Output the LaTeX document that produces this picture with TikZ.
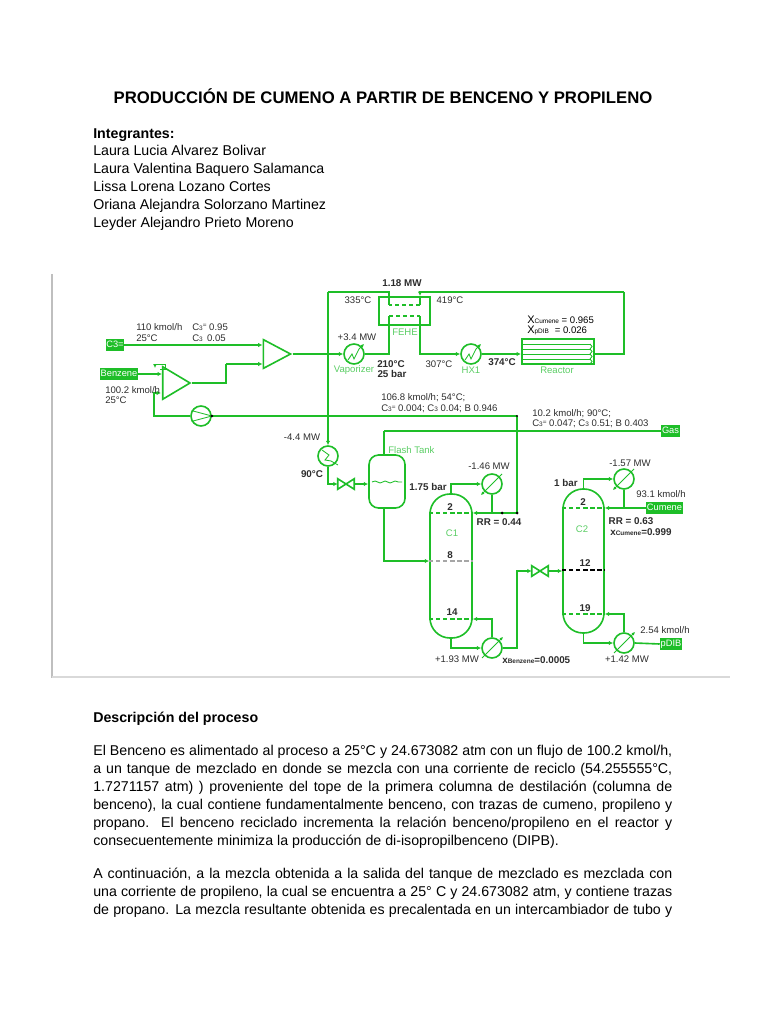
\documentclass[tikz,border=0pt]{standalone}
\usepackage{fontspec}
\setmainfont{Liberation Sans}
\usepackage{xcolor}
\usetikzlibrary{arrows.meta,calc,shapes.geometric,decorations.pathmorphing}
\definecolor{pfdgreen}{RGB}{30,190,40}
\definecolor{pfdlabel}{RGB}{90,205,100}
\definecolor{pfdtext}{RGB}{45,45,45}
\newcommand{\subsm}[1]{{\fontsize{4.6}{5}\selectfont #1}}
\newcommand{\Cpl}{C\subsm{3}\raisebox{0.5ex}{\subsm{=}}}
\newcommand{\Cpa}{C\subsm{3}}
\newcommand{\jline}[1]{\makebox[144.75mm][s]{#1}}
\tikzset{
  stream/.style={draw=pfdgreen,line width=1.15pt},
  feed/.style={stream,-{Latex[length=1.1mm,width=1.1mm]}},
  hxunit/.style={circle,draw=pfdgreen,line width=1.15pt,minimum size=5mm,inner sep=0pt,fill=white},
  valvenode/.style={minimum width=4mm,minimum height=2.5mm,inner sep=0pt},
  hxline/.style={draw=pfdgreen,line width=0.6pt},
  tag/.style={fill=pfdgreen,text=white,inner sep=0pt,font=\fontsize{6.6}{8}\selectfont},
  info/.style={text=pfdtext,inner sep=0pt,font=\fontsize{6.8}{8}\selectfont},
  infobold/.style={info,font=\fontsize{7}{8}\selectfont\bfseries},
  unitname/.style={text=pfdlabel,inner sep=0pt,font=\fontsize{6.8}{8}\selectfont},
  vessel/.style={draw=pfdgreen,line width=1.15pt,inner sep=0pt},
  mixer/.style={isosceles triangle,isosceles triangle stretches,draw=pfdgreen,line width=1.15pt,inner sep=0pt,fill=white},
  trayline/.style={draw=pfdgreen,line width=0.9pt,densely dashed},
  bodytext/.style={anchor=north west,inner sep=0pt,align=left,font=\fontsize{10.1}{12.76}\selectfont}
}
\begin{document}
\begin{tikzpicture}[x=0.25mm,y=-0.25mm]
  \useasboundingbox (0,0) rectangle (768,1024);
  % page text
  \node[inner sep=0pt,font=\fontsize{11.9}{13}\selectfont\bfseries] (title) at (383,96) {PRODUCCIÓN DE CUMENO A PARTIR DE BENCENO Y PROPILENO};
  \node[bodytext] (team) at (93,128) {\textbf{Integrantes:}\\Laura Lucia Alvarez Bolivar\\Laura Valentina Baquero Salamanca\\Lissa Lorena Lozano Cortes\\Oriana Alejandra Solorzano Martinez\\Leyder Alejandro Prieto Moreno};
  \node[bodytext] (deschead) at (93,712) {\textbf{Descripción del proceso}};
  \node[bodytext] (parone) at (93,745) {\jline{El Benceno es alimentado al proceso a 25°C y 24.673082 atm con un flujo de 100.2 kmol/h,}\\
    \jline{a un tanque de  mezclado en donde se mezcla con una corriente de reciclo (54.255555°C,}\\
    \jline{1.7271157 atm) ) proveniente del tope de la primera columna de destilación (columna de}\\
    \jline{benceno), la cual contiene fundamentalmente benceno, con trazas de cumeno, propileno y}\\
    \jline{propano. El benceno reciclado incrementa la relación benceno/propileno en el reactor y}\\
    consecuentemente minimiza la producción de di-isopropilbenceno (DIPB).};
  \node[bodytext] (partwo) at (93,868) {\jline{A continuación, a la mezcla obtenida a la salida del tanque de mezclado es mezclada con}\\
    \jline{una corriente de propileno, la cual se encuentra a 25° C y 24.673082 atm, y contiene trazas}\\
    \jline{de propano. La mezcla resultante obtenida es precalentada en un intercambiador de tubo y}};
  % frame of the pasted figure
  \draw[gray!50,line width=1.4pt] (52,274) -- (52,678);
  \draw[gray!30,line width=1pt] (52,677) -- (730,677);
  % feeds and mixers
  \node[tag] (cthree) at (115,345) {\makebox[4.5mm]{\strut C3=}};
  \node[tag] (benzene) at (119,374) {\makebox[9.4mm]{\strut Benzene}};
  \node[mixer,minimum width=8.1mm,minimum height=6.8mm] (mixone) at (172,383) {};
  \node[mixer,minimum width=7.2mm,minimum height=6.8mm] (mixtwo) at (272,354) {};
  \node[hxunit] (pump) at (201,416) {};
  \draw[hxline] (pump.150) -- (pump.east) -- (pump.210);
  \coordinate (rcyc) at (517,416);
  \coordinate (mixin) at (226,364);
  \draw[feed] (cthree.east) -- (cthree.east -| mixtwo.west);
  \draw[feed] (benzene.east) -- (benzene.east -| mixone.west);
  \draw[stream] (mixone.apex) -| (mixin);
  \draw[feed] (mixin) -- (mixin -| mixtwo.west);
  \draw[stream] (rcyc) -- (pump.east);
  \draw[feed] (pump.west) -| (154,393) -- (161,393);
  \draw[hxline,-{Latex[length=1mm,width=1mm]}] (160,369) -- (165,369) -- (165,364) -- (155,364) -- (155,368);
  \fill (pump.east) circle (1.5);
  % FEHE, heaters and reactor
  \node[hxunit] (vap) at (354,354) {};
  \node[hxunit] (hxone) at (471,354) {};
  \node[hxunit] (cool) at (328,456) {};
  \node[vessel,minimum width=12.75mm,minimum height=7mm] (fehe) at (404.5,311) {};
  \node[vessel,minimum width=18.1mm,minimum height=6.25mm] (reactor) at (558,351.5) {};
  \foreach \n in {vap,hxone} {
    \draw[hxline] ($(\n)+(-6,6)$) -- ($(\n)+(-2,0)$) -- ($(\n)+(0,5)$) -- ($(\n)+(5,-5)$);
    \draw[hxline,-{Latex[length=0.8mm,width=0.8mm]}] ($(\n)+(5,-5)$) -- ($(\n)+(10,-10)$);
  }
  \draw[hxline] ($(cool)+(-6,-6)$) -- ($(cool)+(1,-1)$) -- ($(cool)+(-3,4)$) -- ($(cool)+(3,5)$) -- ($(cool)+(10,9)$);
  \foreach \y in {344,349,354,359} {
    \draw[hxline] (523,\y) -- (590,\y);
    \draw[hxline] (590,\y) -- (592,\y+2.5) -- (590,\y+5);
  }
  \coordinate (hotin) at (420,292);
  \coordinate (hotout) at (389,292);
  \coordinate (hotturn) at (624,292);
  \coordinate (coolin) at (328,292);
  \draw[feed] (mixtwo.apex) -- (vap.west);
  \draw[stream] (vap.east) -| (389,316);
  \draw[stream,densely dashed,line width=0.9pt] (389,316) -- (420,316);
  \draw[feed] (420,316) |- (hxone.west);
  \draw[feed] (hxone.east) -- (hxone.east -| reactor.west);
  \draw[stream] (reactor.east |- hxone) -| (hotturn);
  \draw[feed] (hotturn) -- (hotin) -- (420,296);
  \draw[stream] (420,296) -- (420,305);
  \draw[stream,densely dashed,line width=0.9pt] (420,305) -- (389,305);
  \draw[stream] (389,305) -- (hotout) -- (coolin);
  \draw[feed] (coolin) -- (cool.north);
  % flash tank and first column
  \node[valvenode] (valveone) at (346,484) {};
  \node[vessel,rounded corners=2.4mm,minimum width=9mm,minimum height=13.25mm] (flash) at (387,481.5) {};
  \node[vessel,rounded corners=5mm,minimum width=10.5mm,minimum height=36mm] (cone) at (451,566) {};
  \node[hxunit] (condone) at (492,484) {};
  \node[hxunit] (rebone) at (492,648) {};
  \draw[feed] (cool.south) |- (valveone.west);
  \draw[feed] (valveone.east) -- (valveone.east -| flash.west);
  \draw[hxline,decorate,decoration={snake,amplitude=0.25mm,segment length=2.5mm}] (372,482) -- (402,482);
  \coordinate (gasup) at (384,431);
  \draw[stream] (flash.north -| gasup) -- (gasup);
  \draw[feed] (flash.south -| gasup) |- (cone.west |- 0,561);
  \draw[feed] (cone.north) |- (condone.west);
  \draw[stream] (condone.south) -- (492,513);
  \draw[stream] (rcyc) -- (517,513);
  \draw[feed,line width=1.5pt] (517,513) -- (cone.east |- 0,513);
  \fill (517,513) circle (1.5) (502,513) circle (1.5) (rcyc) circle (1.2);
  \draw[feed] (cone.south) |- (rebone.west);
  \draw[feed] (rebone.north) |- (cone.east |- 0,619);
  % second column
  \node[valvenode] (valvetwo) at (540,571) {};
  \node[vessel,rounded corners=5mm,minimum width=10.25mm,minimum height=36mm] (ctwo) at (583.5,561) {};
  \node[hxunit] (condtwo) at (624,479) {};
  \node[hxunit] (rebtwo) at (624,643) {};
  \node[tag] (gas) at (670.5,431) {\makebox[4.75mm]{\strut Gas}};
  \node[tag] (cumene) at (664.5,508) {\makebox[9.25mm]{\strut Cumene}};
  \node[tag] (pdib) at (671,644) {\makebox[5.5mm]{\strut pDIB}};
  \foreach \n in {valveone,valvetwo} \draw[stream,fill=white] (\n.north west) -- (\n.south east) -- (\n.north east) -- (\n.south west) -- cycle;
  \draw[feed] (rebone.east) -| (517,571) -- (valvetwo.west);
  \draw[feed] (valvetwo.east) -- (valvetwo.east -| ctwo.west);
  \draw[feed] (ctwo.north) |- (condtwo.west);
  \draw[stream] (condtwo.south) -- (624,508);
  \draw[feed] (cumene.west) -- (cumene.west -| ctwo.east);
  \draw[feed] (ctwo.south) |- (rebtwo.west);
  \draw[feed] (rebtwo.north) |- (ctwo.east |- 0,614);
  \draw[stream] (rebtwo.east) -- (pdib.west);
  \draw[stream] (gasup) -- (gas.west);
  \foreach \n in {condone,condtwo} \draw[hxline,{Latex[length=0.8mm,width=0.8mm]}-] ($(\n)+(-11,11)$) -- ($(\n)+(10,-10)$);
  \foreach \n in {rebone,rebtwo} \draw[hxline,-{Latex[length=0.8mm,width=0.8mm]}] ($(\n)+(-10,10)$) -- ($(\n)+(11,-11)$);
  % trays
  \draw[trayline] (cone.west |- 0,513) -- (cone.east |- 0,513);
  \draw[trayline,draw=gray!70] (cone.west |- 0,561) -- (cone.east |- 0,561);
  \draw[trayline] (cone.west |- 0,619) -- (cone.east |- 0,619);
  \draw[trayline] (ctwo.west |- 0,508) -- (ctwo.east |- 0,508);
  \draw[trayline,draw=black] (ctwo.west |- 0,570) -- (ctwo.east |- 0,570);
  \draw[trayline] (ctwo.west |- 0,614) -- (ctwo.east |- 0,614);
  % labels
  \node[info,anchor=west] (lfeedone) at (136,327) {110 kmol/h};
  \node[info,anchor=west] (lfeedtwo) at (136,338) {25°C};
  \node[info,anchor=west] (lcompone) at (192,327) {\Cpl{} 0.95};
  \node[info,anchor=west] (lcomptwo) at (192,338) {\Cpa{}\, 0.05};
  \node[info,anchor=west] (lbenzone) at (105,390) {100.2 kmol/h};
  \node[info,anchor=west] (lbenztwo) at (105,400) {25°C};
  \node[infobold] (lfeheq) at (402,283) {1.18 MW};
  \node[info] (ltempa) at (358,300) {335°C};
  \node[info] (ltempb) at (450,300) {419°C};
  \node[unitname] (lfehe) at (405,332) {FEHE};
  \node[info] (lvapq) at (357,337) {+3.4 MW};
  \node[unitname] (lvap) at (354,370) {Vaporizer};
  \node[infobold] (ltempc) at (391,364) {210°C};
  \node[infobold] (lpress) at (392,374) {25 bar};
  \node[info] (ltempd) at (439,364) {307°C};
  \node[unitname] (lhxone) at (471,370) {HX1};
  \node[infobold] (ltempe) at (502,362) {374°C};
  \node[unitname] (lreactor) at (557,370) {Reactor};
  \node[info,anchor=west,text=black] (lxcum) at (527,320) {{\fontsize{7.8}{8}\selectfont X}\subsm{Cumene} = 0.965};
  \node[info,anchor=west,text=black] (lxpdib) at (527,330) {{\fontsize{7.8}{8}\selectfont X}\subsm{pDIB}\,\, = 0.026};
  \node[info,anchor=west] (lrcycone) at (381,398) {106.8 kmol/h; 54°C;};
  \node[info,anchor=west] (lrcyctwo) at (381,409) {\Cpl{} 0.004; \Cpa{} 0.04; B 0.946};
  \node[info,anchor=west] (lgasone) at (532,414) {10.2 kmol/h; 90°C;};
  \node[info,anchor=west] (lgastwo) at (532,424) {\Cpl{} 0.047; \Cpa{} 0.51; B 0.403};
  \node[info] (lcoolq) at (302,437) {-4.4 MW};
  \node[infobold] (ltempf) at (312,474) {90°C};
  \node[unitname,anchor=west] (lflash) at (388,450) {Flash Tank};
  \node[infobold] (lpone) at (428,487) {1.75 bar};
  \node[info] (lcondoneq) at (489,466) {-1.46 MW};
  \node[infobold] (lrrone) at (499,522) {RR = 0.44};
  \node[unitname] (lcone) at (452,533) {C1};
  \node[infobold] (ltraya) at (450,507) {2};
  \node[infobold] (ltrayb) at (450,555) {8};
  \node[infobold] (ltrayc) at (452,612) {14};
  \node[info] (lreboneq) at (457,659) {+1.93 MW};
  \node[infobold,anchor=west] (lxbenz) at (502,660) {x\subsm{Benzene}=0.0005};
  \node[infobold] (lptwo) at (566,483) {1 bar};
  \node[info] (lcondtwoq) at (630,463) {-1.57 MW};
  \node[info] (lcumflow) at (661,494) {93.1 kmol/h};
  \node[infobold] (lrrtwo) at (631,521) {RR = 0.63};
  \node[infobold,anchor=west] (lxcumtwo) at (610,532) {x\subsm{Cumene}=0.999};
  \node[unitname] (lctwo) at (582,529) {C2};
  \node[infobold] (ltrayd) at (583,502) {2};
  \node[infobold] (ltraye) at (585,563) {12};
  \node[infobold] (ltrayf) at (585,608) {19};
  \node[info] (lpdibflow) at (665,630) {2.54 kmol/h};
  \node[info] (lrebtwoq) at (627,659) {+1.42 MW};
\end{tikzpicture}
\end{document}
